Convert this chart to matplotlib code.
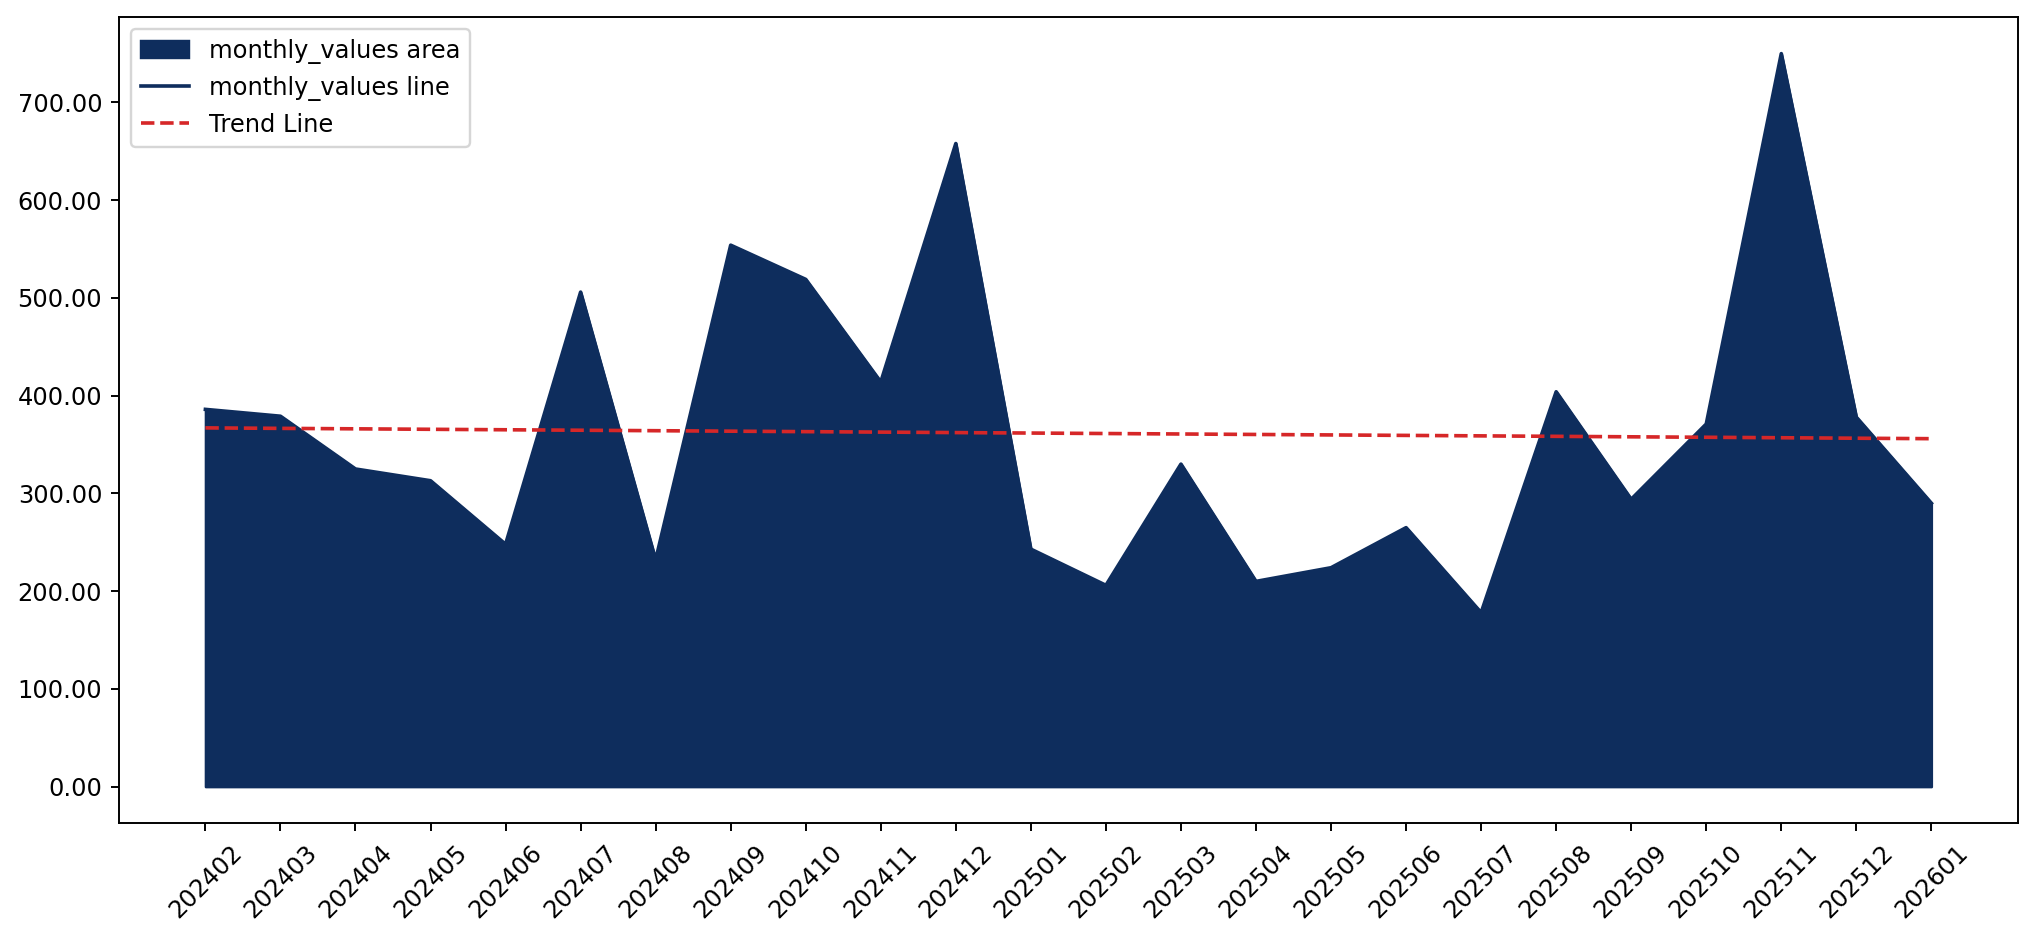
import numpy as np
import matplotlib
matplotlib.use("Agg")
import matplotlib.pyplot as plt

# months and values
months = ["202402", "202403", "202404", "202405", "202406", "202407", "202408",
          "202409", "202410", "202411", "202412", "202501", "202502", "202503",
          "202504", "202505", "202506", "202507", "202508", "202509", "202510",
          "202511", "202512", "202601"]
monthly_values = [386, 379, 325, 313, 248, 506, 232, 554, 519, 414, 658, 243,
                  206, 330, 210, 224, 265, 178, 404, 294, 371, 750, 378, 290]

navy = "#0e2d5d"
DPI = 174

fig = plt.figure(figsize=(2036 / DPI, 942 / DPI), dpi=DPI)
ax = fig.add_subplot(111)
fig.subplots_adjust(left=0.0585, right=0.991, top=0.982, bottom=0.126)

x = np.arange(len(months))
y = np.array(monthly_values, dtype=float)

ax.fill_between(x, y, color=navy, label="monthly_values area")
ax.plot(x, y, color=navy, label="monthly_values line")

# linear trend over the series
coef = np.polyfit(x, y, 1)
trend = np.polyval(coef, x)
ax.plot(x, trend, "--", color="#d62728", label="Trend Line")

ax.set_xticks(x)
ax.set_xticklabels(months, rotation=45)
ax.yaxis.set_major_formatter(matplotlib.ticker.FormatStrFormatter("%.2f"))
ax.legend(loc="upper left")

fig.savefig("out.png", dpi=DPI)
